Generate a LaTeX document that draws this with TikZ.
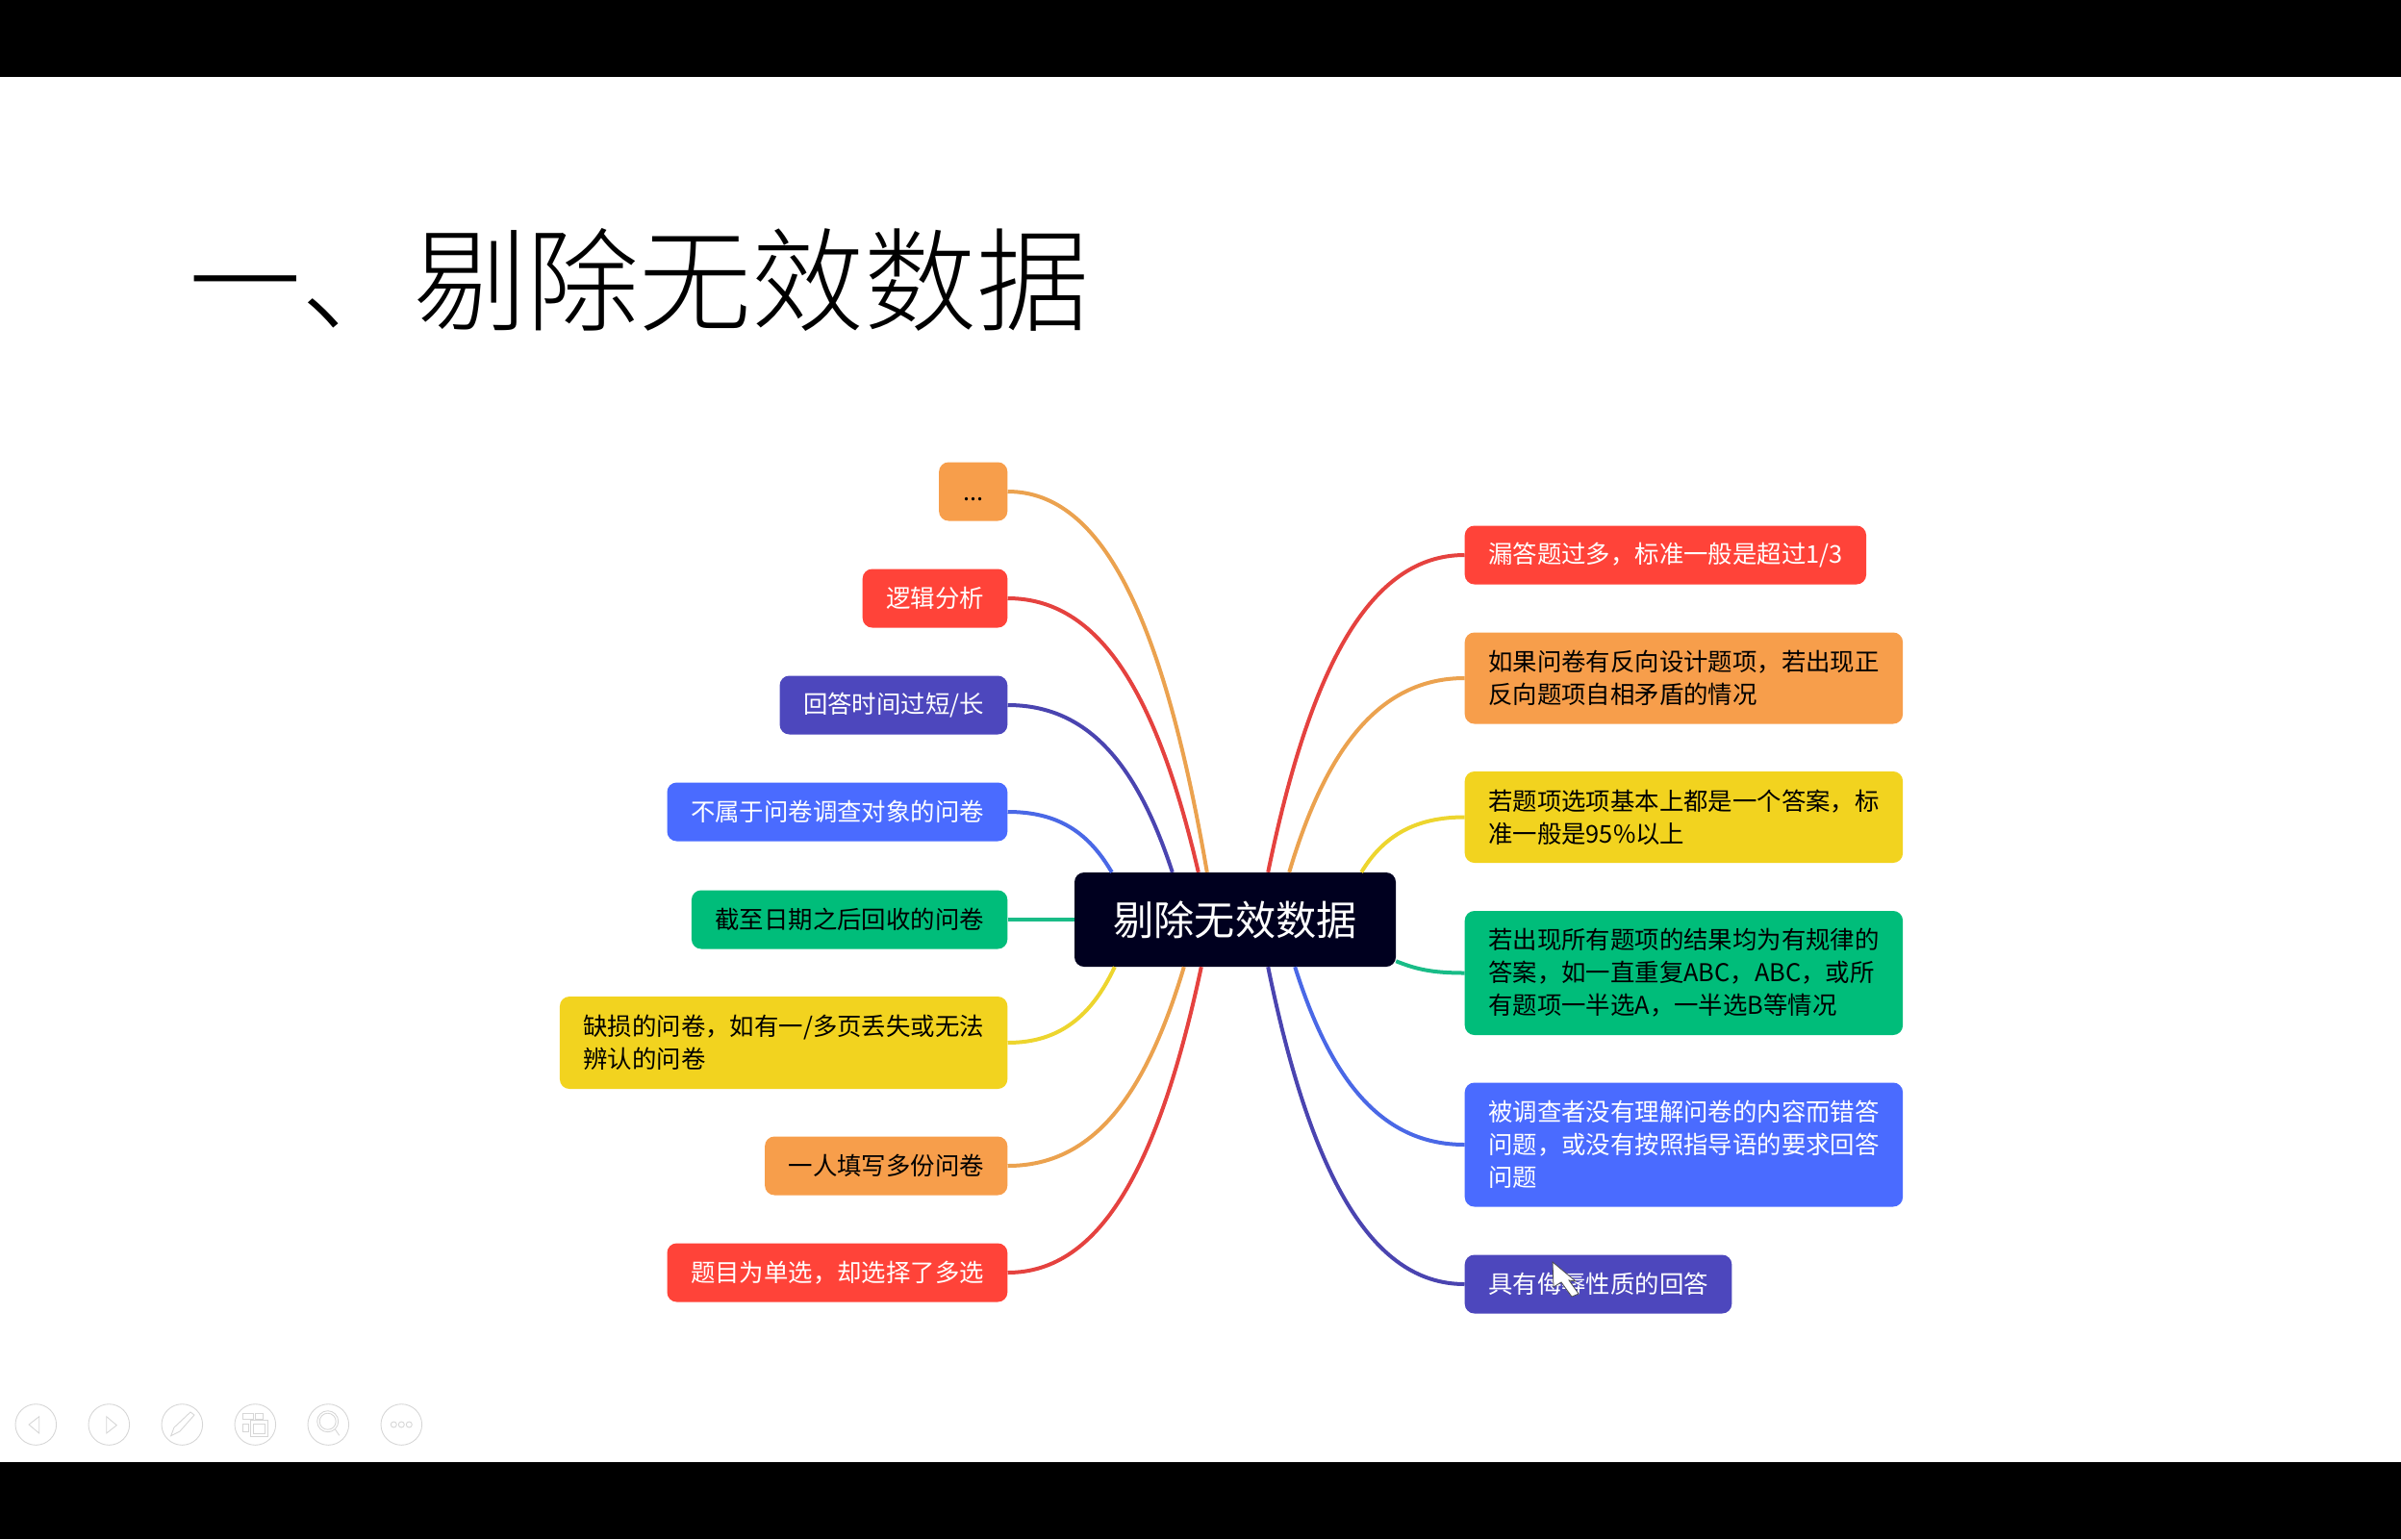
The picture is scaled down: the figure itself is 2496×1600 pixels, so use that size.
\documentclass[tikz,border=0pt]{standalone}
\usepackage{fontspec}
\setmainfont{Noto Sans CJK SC}
\newfontfamily\titlefont[UprightFont=* Light]{Noto Sans CJK SC}
\usetikzlibrary{positioning}

\definecolor{orangebox}{HTML}{F79E4B}
\definecolor{redbox}{HTML}{FF4339}
\definecolor{indigobox}{HTML}{4D47BD}
\definecolor{bluebox}{HTML}{4A6BFF}
\definecolor{greenbox}{HTML}{00BD7A}
\definecolor{yellowbox}{HTML}{F2D31F}
\definecolor{rootbox}{HTML}{00001F}
\definecolor{orangeline}{HTML}{EBA24F}
\definecolor{redline}{HTML}{E5423F}
\definecolor{indigoline}{HTML}{4A44B0}
\definecolor{blueline}{HTML}{4A68E6}
\definecolor{greenline}{HTML}{19BC87}
\definecolor{yellowline}{HTML}{EDD52E}
\definecolor{toolgray}{HTML}{D6D6D6}

\begin{document}
\begin{tikzpicture}[
    x=1pt, y=-1pt,
    leaf/.style={rounded corners=10pt, align=left, inner xsep=24.5pt, inner ysep=0pt,
        minimum height=61pt, font=\fontsize{25.4}{34}\selectfont}, % Style for the boxes
    leftleaf/.style={leaf, anchor=east},
    rightleaf/.style={leaf, anchor=west},
    link/.style={line width=4pt}, % Style for curved branches
    tool/.style={draw=toolgray, line width=0.9pt} % Style for the toolbar
]
    \useasboundingbox (0,0) rectangle (2496,1600);

    % Black bars
    \fill[black] (0,0) rectangle (2496,80);
    \fill[black] (0,1520) rectangle (2496,1600);

    % Title
    \node[anchor=west, inner sep=0pt, font=\titlefont\fontsize{117}{120}\selectfont] (title) at (196,291) {一、剔除无效数据};

    % Centre
    \node[fill=rootbox, text=white, rounded corners=10pt, minimum width=334pt, minimum height=98pt,
        inner sep=0pt, font=\fontsize{42.2}{50}\selectfont] (root) at (1284,956) {剔除无效数据};

    % Left boxes
    \node[leftleaf, fill=orangebox, inner xsep=25pt] (dots) at (1047.5,511) {\vphantom{国}...};
    \node[leftleaf, fill=redbox, text=white] (logic) at (1047.5,622) {逻辑分析};
    \node[leftleaf, fill=indigobox, text=white] (answertime) at (1047.5,733) {回答时间过短/长};
    \node[leftleaf, fill=bluebox, text=white] (notarget) at (1047.5,844) {不属于问卷调查对象的问卷};
    \node[leftleaf, fill=greenbox] (late) at (1047.5,956) {截至日期之后回收的问卷};
    \node[leftleaf, fill=yellowbox, minimum height=96pt] (missing) at (1047.5,1084) {缺损的问卷，如有一/多页丢失或无法\\辨认的问卷};
    \node[leftleaf, fill=orangebox] (several) at (1047.5,1212) {一人填写多份问卷};
    \node[leftleaf, fill=redbox, text=white] (single) at (1047.5,1323) {题目为单选，却选择了多选};

    % Right boxes
    \node[rightleaf, fill=redbox, text=white] (blank) at (1522.5,577) {漏答题过多，标准一般是超过1/3};
    \node[rightleaf, fill=orangebox, minimum height=95pt] (reverse) at (1522.5,705) {如果问卷有反向设计题项，若出现正\\反向题项自相矛盾的情况};
    \node[rightleaf, fill=yellowbox, minimum height=95pt] (same) at (1522.5,849.5) {若题项选项基本上都是一个答案，标\\准一般是95\%以上};
    \node[rightleaf, fill=greenbox, minimum height=129pt] (pattern) at (1522.5,1011.5) {若出现所有题项的结果均为有规律的\\答案，如一直重复ABC，ABC，或所\\有题项一半选A，一半选B等情况};
    \node[rightleaf, fill=bluebox, text=white, minimum height=129pt] (misread) at (1522.5,1190) {被调查者没有理解问卷的内容而错答\\问题，或没有按照指导语的要求回答\\问题};
    \node[rightleaf, fill=indigobox, text=white] (insult) at (1522.5,1335) {具有侮辱性质的回答};

    % Left branches
    \draw[link, orangeline] (dots.east) .. controls +(100,0) and +(-45,-260) .. ([xshift=138pt]root.north west);
    \draw[link, redline] (logic.east) .. controls +(96,0) and +(-43,-185) .. ([xshift=129pt]root.north west);
    \draw[link, indigoline] (answertime.east) .. controls +(83,0) and +(-37,-113) .. ([xshift=102pt]root.north west);
    \draw[link, blueline] (notarget.east) .. controls +(53,0) and +(-24,-41) .. ([xshift=39pt]root.north west);
    \draw[link, greenline] (late.east) -- (root.west);
    \draw[link, yellowline] (missing.east) .. controls +(54,0) and +(-24,51) .. ([xshift=42pt]root.south west);
    \draw[link, orangeline] (several.east) .. controls +(89,0) and +(-40,134) .. ([xshift=114pt]root.south west);
    \draw[link, redline] (single.east) .. controls +(97,0) and +(-44,206) .. ([xshift=132pt]root.south west);

    % Right branches
    \draw[link, redline] (blank.west) .. controls +(-98,0) and +(44,-214) .. ([xshift=-133pt]root.north east);
    \draw[link, orangeline] (reverse.west) .. controls +(-87,0) and +(39,-131) .. ([xshift=-111pt]root.north east);
    \draw[link, yellowline] (same.west) .. controls +(-51,0) and +(23,-38) .. ([xshift=-36pt]root.north east);
    \draw[link, greenline] (pattern.west) .. controls +(-35,0) and +(20,8) .. ([yshift=6pt]root.south east);
    \draw[link, blueline] (misread.west) .. controls +(-85,0) and +(38,120) .. ([xshift=-105pt]root.south east);
    \draw[link, indigoline] (insult.west) .. controls +(-98,0) and +(44,214) .. ([xshift=-133pt]root.south east);

    % Mouse pointer
    \fill[white, draw=black!70, line width=0.8pt] (1614,1312) -- (1615,1338) -- (1623,1333) -- (1634,1348)
        -- (1641,1345) -- (1631,1331) -- (1638,1332) -- cycle;

    % Toolbar circles
    \draw[tool] (37.3,1481) circle (21.3);
    \draw[tool] (113.3,1481) circle (21.3);
    \draw[tool] (189.3,1481) circle (21.3);
    \draw[tool] (265.3,1481) circle (21.3);
    \draw[tool] (341.3,1481) circle (21.3);
    \draw[tool] (417.3,1481) circle (21.3);

    % Toolbar icons
    \draw[tool] (30,1481) -- (40.7,1472.7) -- (40.7,1490) -- cycle;
    \draw[tool] (110.7,1472.7) -- (110.7,1490) -- (121.3,1481.7) -- cycle;
    \draw[tool] (177.7,1492.7) -- (181,1484) -- (198,1468) -- (202,1471) -- (187,1488) -- cycle;
    \draw[tool] (252.7,1469.3) rectangle (263,1475.5);
    \draw[tool] (265,1469.3) rectangle (273.3,1475);
    \draw[tool] (252.7,1480.7) rectangle (258.3,1488.3);
    \draw[tool] (260,1476.7) rectangle (278.3,1493.3);
    \draw[tool] (263.5,1480) rectangle (275,1490.5);
    \draw[tool] (340.7,1477.7) circle (11);
    \draw[tool] (340.7,1477.7) circle (8.5);
    \draw[tool] (348.5,1486) -- (352.7,1492.3);
    \draw[tool] (409.3,1481) circle (3);
    \draw[tool] (417.3,1481) circle (3);
    \draw[tool] (425.3,1481) circle (3);

\end{tikzpicture}
\end{document}
